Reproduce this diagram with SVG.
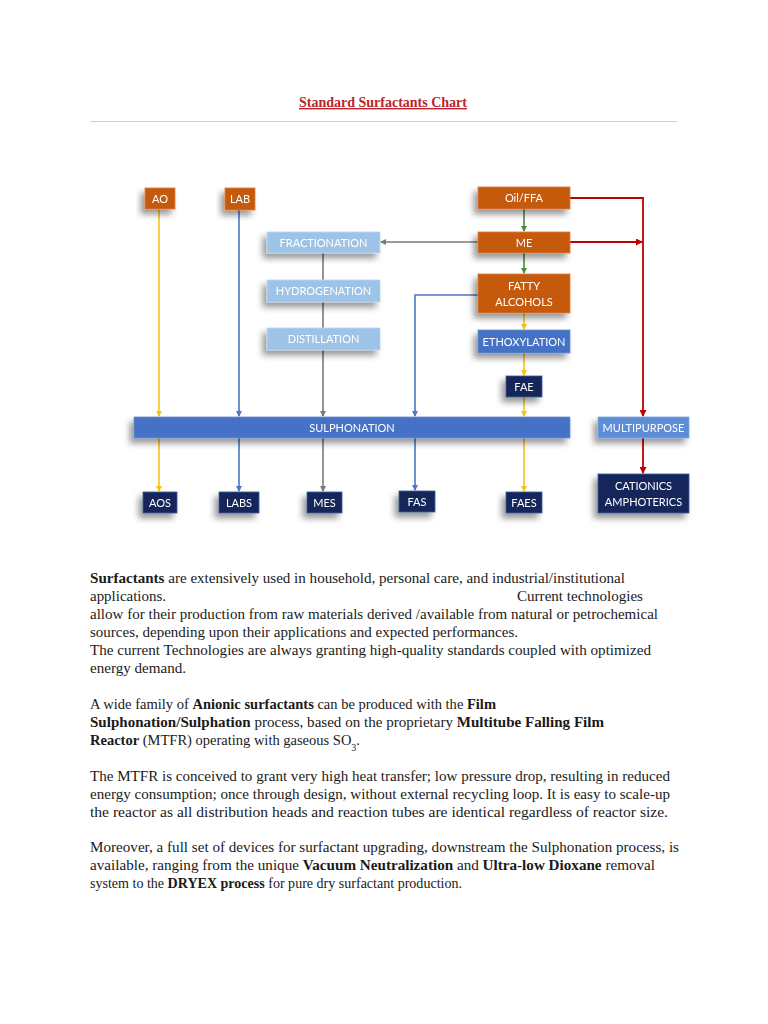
<svg xmlns="http://www.w3.org/2000/svg" width="768" height="1024" viewBox="0 0 768 1024">
<style>
.lbl{font-family:Lato,"Open Sans","Liberation Sans",sans-serif;font-size:11px;fill:#fff;text-anchor:middle}
.or{fill:#C55A11;stroke:#E07A3A;stroke-width:0.8}
.lb{fill:#9DC3E6;stroke:#BDD7EE;stroke-width:0.8}
.mb{fill:#4472C4;stroke:#6A8FD4;stroke-width:0.8}
.mp{fill:#5B8DD6;stroke:#7FA8E0;stroke-width:0.8}
.nv{fill:#12285A;stroke:#3C5A94;stroke-width:0.8}
.body{font-family:"Liberation Serif","Times New Roman",serif;font-size:14.5px;fill:#1a1a1a}
.b{font-weight:bold}
.y{stroke:#F4C21B;stroke-width:1.6;fill:none}
.bl{stroke:#4A78C8;stroke-width:1.6;fill:none}
.g{stroke:#7A7A7A;stroke-width:1.6;fill:none}
.gr{stroke:#4E8A3A;stroke-width:1.6;fill:none}
.r{stroke:#C00000;stroke-width:1.8;fill:none}
</style>
<defs>
<filter id="sh" x="-30%" y="-30%" width="160%" height="180%">
<feDropShadow dx="-4" dy="5" stdDeviation="3" flood-color="#000" flood-opacity="0.4"/>
</filter>
<marker id="ay" markerWidth="6" markerHeight="6" refX="5" refY="3" orient="auto" markerUnits="userSpaceOnUse"><path d="M0,0 L6,3 L0,6 z" fill="#F4C21B"/></marker>
<marker id="abl" markerWidth="6" markerHeight="6" refX="5" refY="3" orient="auto" markerUnits="userSpaceOnUse"><path d="M0,0 L6,3 L0,6 z" fill="#4A78C8"/></marker>
<marker id="ag" markerWidth="6" markerHeight="6" refX="5" refY="3" orient="auto" markerUnits="userSpaceOnUse"><path d="M0,0 L6,3 L0,6 z" fill="#7A7A7A"/></marker>
<marker id="agr" markerWidth="6" markerHeight="6" refX="5" refY="3" orient="auto" markerUnits="userSpaceOnUse"><path d="M0,0 L6,3 L0,6 z" fill="#4E8A3A"/></marker>
<marker id="ar" markerWidth="7" markerHeight="7" refX="6" refY="3.5" orient="auto" markerUnits="userSpaceOnUse"><path d="M0,0 L7,3.5 L0,7 z" fill="#C00000"/></marker>
</defs>
<rect width="768" height="1024" fill="#fff"/>

<g id="title">
<text x="383" y="107" font-family="'Liberation Serif','Times New Roman',serif" font-size="14" font-weight="bold" fill="#B8262B" text-anchor="middle" text-decoration="underline">Standard Surfactants Chart</text>
<line x1="90" y1="121.5" x2="677" y2="121.5" stroke="#D0D0D0" stroke-width="1"/>
</g>

<g id="connectors">
<path class="y" d="M159,209 V416" marker-end="url(#ay)"/>
<path class="y" d="M159,438 V491" marker-end="url(#ay)"/>
<path class="bl" d="M239,210 V416" marker-end="url(#abl)"/>
<path class="bl" d="M239,438 V491" marker-end="url(#abl)"/>
<path class="g" d="M478,242 H381" marker-end="url(#ag)"/>
<path class="g" d="M323,253 V280"/>
<path class="g" d="M323,302 V328"/>
<path class="g" d="M323,350 V416" marker-end="url(#ag)"/>
<path class="g" d="M323,438 V491" marker-end="url(#ag)"/>
<path class="bl" d="M478,295 H415 V416" marker-end="url(#abl)"/>
<path class="bl" d="M415,438 V490" marker-end="url(#abl)"/>
<path class="gr" d="M524,209 V231" marker-end="url(#agr)"/>
<path class="gr" d="M524,253 V273" marker-end="url(#agr)"/>
<path class="y" d="M524,313 V329" marker-end="url(#ay)"/>
<path class="y" d="M524,353 V375" marker-end="url(#ay)"/>
<path class="y" d="M524,397 V416" marker-end="url(#ay)"/>
<path class="y" d="M524,438 V491" marker-end="url(#ay)"/>
<path class="r" d="M570,198 H643 V416" marker-end="url(#ar)"/>
<path class="r" d="M570,242 H642" marker-end="url(#ar)"/>
<path class="r" d="M643,438 V473" marker-end="url(#ar)"/>
</g>

<g id="n-ao" filter="url(#sh)"><rect class="or" x="145" y="188" width="30" height="21"/><text class="lbl" x="160" y="202.5">AO</text></g>
<g id="n-lab" filter="url(#sh)"><rect class="or" x="225" y="188" width="30" height="22"/><text class="lbl" x="240" y="203">LAB</text></g>
<g id="n-fractionation" filter="url(#sh)"><rect class="lb" x="267" y="232" width="113" height="21"/><text class="lbl" x="323.5" y="246.5">FRACTIONATION</text></g>
<g id="n-hydrogenation" filter="url(#sh)"><rect class="lb" x="267" y="280" width="113" height="22"/><text class="lbl" x="323.5" y="295">HYDROGENATION</text></g>
<g id="n-distillation" filter="url(#sh)"><rect class="lb" x="267" y="328" width="113" height="22"/><text class="lbl" x="323.5" y="343">DISTILLATION</text></g>
<g id="n-oilffa" filter="url(#sh)"><rect class="or" x="478" y="187" width="92" height="22"/><text class="lbl" x="524" y="202">Oil/FFA</text></g>
<g id="n-me" filter="url(#sh)"><rect class="or" x="478" y="232" width="92" height="21"/><text class="lbl" x="524" y="246.5">ME</text></g>
<g id="n-fattyalcohols" filter="url(#sh)"><rect class="or" x="478" y="274" width="92" height="39"/><text class="lbl" x="524" y="290">FATTY</text><text class="lbl" x="524" y="306">ALCOHOLS</text></g>
<g id="n-ethoxylation" filter="url(#sh)"><rect class="mb" x="478" y="330" width="92" height="23"/><text class="lbl" x="524" y="345.5">ETHOXYLATION</text></g>
<g id="n-fae" filter="url(#sh)"><rect class="nv" x="506" y="376" width="36" height="21"/><text class="lbl" x="524" y="390.5">FAE</text></g>
<g id="n-sulphonation" filter="url(#sh)"><rect class="mb" x="134" y="417" width="436" height="21"/><text class="lbl" x="352" y="431.5">SULPHONATION</text></g>
<g id="n-multipurpose" filter="url(#sh)"><rect class="mp" x="598" y="417" width="91" height="21"/><text class="lbl" x="643.5" y="431.5">MULTIPURPOSE</text></g>
<g id="n-aos" filter="url(#sh)"><rect class="nv" x="143" y="492" width="34" height="21"/><text class="lbl" x="160" y="506.5">AOS</text></g>
<g id="n-labs" filter="url(#sh)"><rect class="nv" x="219" y="492" width="40" height="21"/><text class="lbl" x="239" y="506.5">LABS</text></g>
<g id="n-mes" filter="url(#sh)"><rect class="nv" x="307" y="492" width="35" height="21"/><text class="lbl" x="324.5" y="506.5">MES</text></g>
<g id="n-fas" filter="url(#sh)"><rect class="nv" x="399" y="491" width="36" height="21"/><text class="lbl" x="417" y="505.5">FAS</text></g>
<g id="n-faes" filter="url(#sh)"><rect class="nv" x="506" y="492" width="36" height="21"/><text class="lbl" x="524" y="506.5">FAES</text></g>
<g id="n-cationics" filter="url(#sh)"><rect class="nv" x="598" y="474" width="91" height="39"/><text class="lbl" x="643.5" y="490">CATIONICS</text><text class="lbl" x="643.5" y="506">AMPHOTERICS</text></g>

<g id="body">
<text class="body" x="90" y="583" textLength="535" lengthAdjust="spacingAndGlyphs"><tspan class="b">Surfactants</tspan> are extensively used in household, personal care, and industrial/institutional</text>
<text class="body" x="90" y="601" textLength="76" lengthAdjust="spacingAndGlyphs">applications.</text>
<text class="body" x="517" y="601" textLength="126" lengthAdjust="spacingAndGlyphs">Current technologies</text>
<text class="body" x="90" y="619" textLength="568" lengthAdjust="spacingAndGlyphs">allow for their production from raw materials derived /available from natural or petrochemical</text>
<text class="body" x="90" y="637" textLength="428" lengthAdjust="spacingAndGlyphs">sources, depending upon their applications and expected performances.</text>
<text class="body" x="90" y="655" textLength="561" lengthAdjust="spacingAndGlyphs">The current Technologies are always granting high-quality standards coupled with optimized</text>
<text class="body" x="90" y="673" textLength="96" lengthAdjust="spacingAndGlyphs">energy demand.</text>

<text class="body" x="90" y="709" textLength="406" lengthAdjust="spacingAndGlyphs">A wide family of <tspan class="b">Anionic surfactants</tspan> can be produced with the <tspan class="b">Film</tspan></text>
<text class="body" x="90" y="727" textLength="514" lengthAdjust="spacingAndGlyphs"><tspan class="b">Sulphonation/Sulphation</tspan> process, based on the proprietary <tspan class="b">Multitube Falling Film</tspan></text>
<text class="body" x="90" y="745"><tspan class="b">Reactor</tspan> (MTFR) operating with gaseous SO<tspan font-size="10" baseline-shift="sub">3</tspan>.</text>

<text class="body" x="90" y="781" textLength="580" lengthAdjust="spacingAndGlyphs">The MTFR is conceived to grant very high heat transfer; low pressure drop, resulting in reduced</text>
<text class="body" x="90" y="799" textLength="580" lengthAdjust="spacingAndGlyphs">energy consumption; once through design, without external recycling loop. It is easy to scale-up</text>
<text class="body" x="90" y="817" textLength="578" lengthAdjust="spacingAndGlyphs">the reactor as all distribution heads and reaction tubes are identical regardless of reactor size.</text>

<text class="body" x="90" y="852" textLength="589" lengthAdjust="spacingAndGlyphs">Moreover, a full set of devices for surfactant upgrading, downstream the Sulphonation process, is</text>
<text class="body" x="90" y="870" textLength="565" lengthAdjust="spacingAndGlyphs">available, ranging from the unique <tspan class="b">Vacuum Neutralization</tspan> and <tspan class="b">Ultra-low Dioxane</tspan> removal</text>
<text class="body" x="90" y="888" textLength="372" lengthAdjust="spacingAndGlyphs">system to the <tspan class="b">DRYEX process</tspan> for pure dry surfactant production.</text>
</g>
</svg>
